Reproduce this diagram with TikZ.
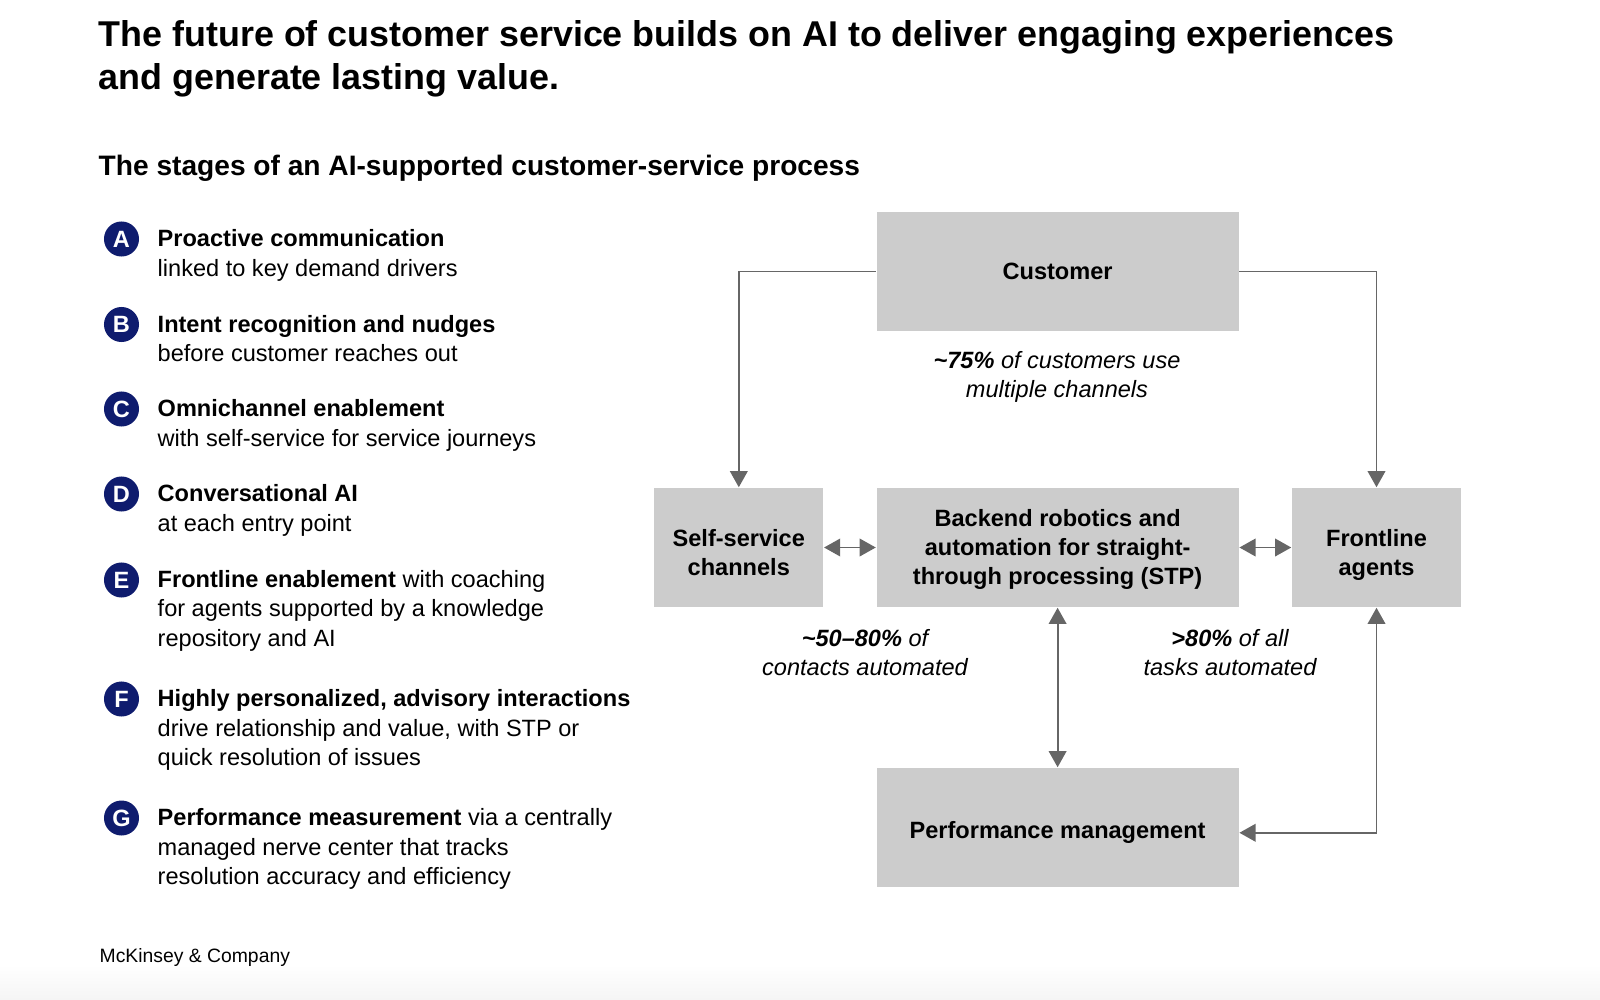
\documentclass[tikz,border=0pt]{standalone}
\usepackage{fontspec}
\setmainfont{Liberation Sans}
\usetikzlibrary{arrows.meta}

\definecolor{mckblue}{HTML}{0F1C6E}
\definecolor{boxgray}{HTML}{CCCCCC}
\definecolor{linegray}{HTML}{666666}

\tikzset{
	stagebox/.style={fill=boxgray, inner sep=0pt, align=center, font=\fontsize{6.7}{8.25}\selectfont\bfseries},
	widebox/.style={stagebox, minimum width=3.62cm, minimum height=1.19cm},
	narrowbox/.style={stagebox, minimum width=1.69cm, minimum height=1.19cm, text height=16pt, text depth=0pt},
	flow/.style={linegray, line width=0.55pt, -{Triangle[length=4.6pt,width=5pt]}},
	twoway/.style={flow, {Triangle[length=4.6pt,width=5pt]}-{Triangle[length=4.6pt,width=5pt]}},
	letter/.style={circle, fill=mckblue, text=white, minimum size=0.35cm, inner sep=0pt, font=\fontsize{6.7}{8}\selectfont\bfseries},
	stage/.style={anchor=base west, align=left, inner sep=0pt, font=\fontsize{6.7}{8.25}\selectfont},
	note/.style={align=center, inner sep=0pt, font=\fontsize{6.7}{8.25}\selectfont\itshape},
}

\begin{document}
\begin{tikzpicture}[x=0.01cm, y=-0.01cm]
			\useasboundingbox (0,0) rectangle (1600,1000);
			\fill[top color=white, bottom color=black!4, draw=none] (0,965) rectangle (1600,1000);

			\def\tx{157};

			\node[anchor=base west, align=left, inner sep=0pt, font=\fontsize{10.2}{12.5}\selectfont\bfseries] (title) at (98,90)
				{The future of customer service builds on AI to deliver engaging experiences\\and generate lasting value.};
			\node[anchor=base west, inner sep=0pt, font=\fontsize{8}{9.6}\selectfont\bfseries] (subtitle) at (98,175.5)
				{The stages of an AI-supported customer-service process};

			\begin{scope}
				\node[letter] (la) at (121.5,239) {A};
				\node[letter] (lb) at (121.5,324.5) {B};
				\node[letter] (lc) at (121.5,409) {C};
				\node[letter] (ld) at (121.5,494) {D};
				\node[letter] (le) at (121.5,580) {E};
				\node[letter] (lf) at (121.5,699) {F};
				\node[letter] (lg) at (121.5,818) {G};
			\end{scope}

			\begin{scope}
				\node[stage] (sa) at (\tx,276) {\textbf{Proactive communication}\\linked to key demand drivers};
				\node[stage] (sb) at (\tx,361.5) {\textbf{Intent recognition and nudges}\\before customer reaches out};
				\node[stage] (sc) at (\tx,446) {\textbf{Omnichannel enablement}\\with self-service for service journeys};
				\node[stage] (sd) at (\tx,531) {\textbf{Conversational AI}\\at each entry point};
				\node[stage] (se) at (\tx,646) {\textbf{Frontline enablement} with coaching\\for agents supported by a knowledge\\repository and AI};
				\node[stage] (sf) at (\tx,765) {\textbf{Highly personalized, advisory interactions}\\drive relationship and value, with STP or\\quick resolution of issues};
				\node[stage] (sg) at (\tx,884) {\textbf{Performance measurement} via a centrally\\managed nerve center that tracks\\resolution accuracy and efficiency};
			\end{scope}

			\begin{scope}
				\node[widebox] (customer) at (1057.6,271.5) {Customer};
				\node[narrowbox] (self) at (738.8,547.5) {Self-service\\channels};
				\node[widebox, text height=22.4pt, text depth=1.5pt] (backend) at (1057.6,547.5) {Backend robotics and\\automation for straight-\\through processing (STP)};
				\node[narrowbox] (frontline) at (1376.5,547.5) {Frontline\\agents};
				\node[widebox, text height=7pt, text depth=1pt] (perf) at (1057.6,827.5) {Performance management};
			\end{scope}

			\begin{scope}
				\node[note] (multi) at (1057,377) {\textbf{\textasciitilde75\%} of customers use\\multiple channels};
				\node[note] (contacts) at (865,652.5) {\textbf{\textasciitilde50--80\%} of\\contacts automated};
				\node[note] (tasks) at (1230,652.5) {\textbf{>80\%} of all\\tasks automated};
			\end{scope}

			\begin{scope}
				\draw[flow] (customer.west) -| (self.north);
				\draw[flow] (customer.east) -| (frontline.north);
				\draw[twoway] (self) -- (backend);
				\draw[twoway] (backend) -- (frontline);
				\draw[twoway] (backend) -- (perf);
				\draw[twoway] ([yshift=-1.5pt]perf.east) -| (frontline.south);
			\end{scope}

			\node[anchor=base west, inner sep=0pt, font=\fontsize{5.5}{6.6}\selectfont] (brand) at (99,962) {McKinsey \& Company};
		\end{tikzpicture}
\end{document}
